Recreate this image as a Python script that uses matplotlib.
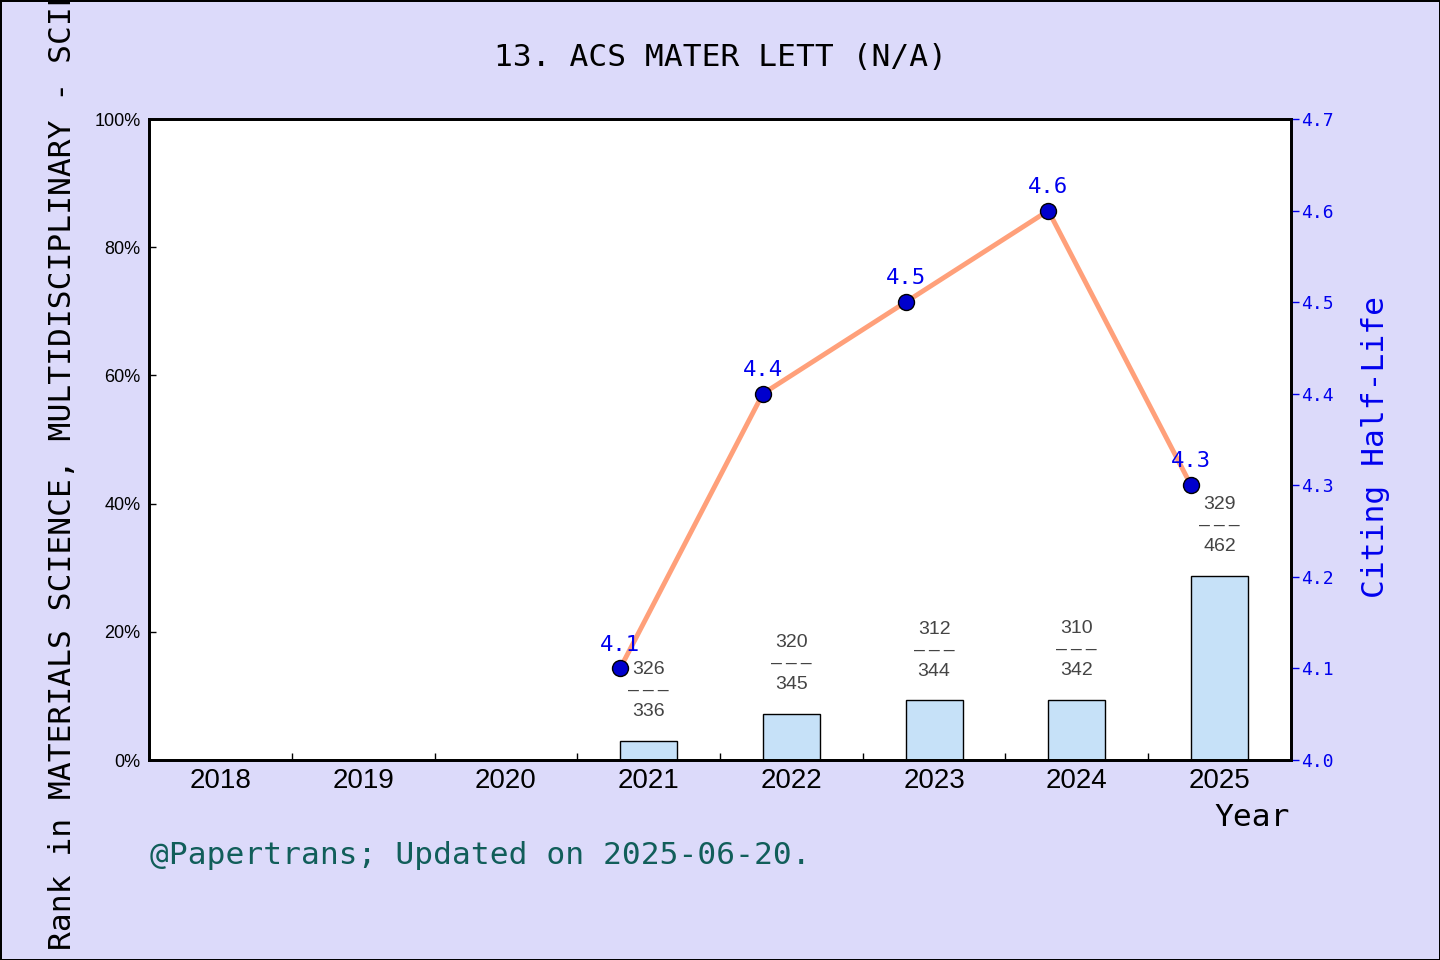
import matplotlib.pyplot as plt
from matplotlib.ticker import FixedLocator, FuncFormatter

# Data ########################################################

years = ["2018", "2019", "2020", "2021", "2022", "2023", "2024", "2025"]
rank_years = ["2021", "2022", "2023", "2024", "2025"]
ranks = [326, 320, 312, 310, 329]
totals = [336, 345, 344, 342, 462]
half_life = [4.1, 4.4, 4.5, 4.6, 4.3]

title = "13. ACS MATER LETT (N/A)"
left_label = "Rank in MATERIALS SCIENCE, MULTIDISCIPLINARY - SCIE"
right_label = "Citing Half-Life"
note = "@Papertrans; Updated on 2025-06-20."

# Styles ######################################################

bg = "#dcdafa"
mono = "DejaVu Sans Mono"
sans = "Liberation Sans"
dash = "\u2013\u2009\u2013\u2009\u2013"

fig = plt.figure(figsize=(14.4, 9.6), dpi=100, facecolor=bg,
                 edgecolor="black", linewidth=2)
ax = fig.add_axes([0.1035, 0.2083, 0.793, 0.6677])
ax2 = ax.twinx()
ax.set_zorder(ax2.get_zorder() - 1)
ax2.patch.set_visible(False)
ax.set_facecolor("white")

idx = [years.index(y) for y in rank_years]
pct = [(1 - r / t) * 100 for r, t in zip(ranks, totals)]

bars = ax.bar(idx, pct, width=0.4, color="#c6e1f8", edgecolor="black",
              linewidth=1, zorder=2)
for i, p, r, t in zip(idx, pct, ranks, totals):
    ax.annotate(f"{r}\n{dash}\n{t}", (i, p), xytext=(0, 15),
                textcoords="offset points", ha="center", va="bottom",
                fontsize=14, color="#444444", family=sans, linespacing=1.3)

# half-life line, shifted to the left edge of each bar
lx = [i - 0.2 for i in idx]
ax2.plot(lx, half_life, color="#ffa07a", lw=3.5, zorder=3)
ax2.plot(lx, half_life, "o", ms=11.5, mfc="#0000cd", mec="black",
         mew=1, zorder=4)
for x, v in zip(lx, half_life):
    ax2.annotate(f"{v:.1f}", (x, v), xytext=(0, 10),
                 textcoords="offset points", ha="center", va="bottom",
                 fontsize=16, color="#0000ee", family=mono)

# Axes ########################################################

ax.set_xlim(-0.5, len(years) - 0.5)
ax.set_ylim(0, 100)
ax2.set_ylim(4.0, 4.7)

ax.set_xticks(range(len(years)))
ax.set_xticklabels(years, fontsize=20, family=sans)
ax.xaxis.set_minor_locator(FixedLocator([i + 0.5 for i in range(len(years) - 1)]))
ax.tick_params(axis="x", which="major", length=0, pad=6)
ax.tick_params(axis="x", which="minor", length=5, direction="in", width=1)

ax.set_yticks(range(0, 101, 20))
ax.yaxis.set_major_formatter(FuncFormatter(lambda v, p: f"{v:.0f}%"))
ax.tick_params(axis="y", length=5, direction="in", width=1, labelsize=13,
               pad=6)
for lab in ax.get_yticklabels():
    lab.set_family(sans)

ax2.set_yticks([4.0 + 0.1 * k for k in range(8)])
ax2.yaxis.set_major_formatter(FuncFormatter(lambda v, p: f"{v:.1f}"))
ax2.tick_params(axis="y", length=6, direction="out", width=1,
                labelsize=13, colors="#0000ee", pad=1)
for lab in ax2.get_yticklabels():
    lab.set_family(mono)

for a in (ax, ax2):
    for s in a.spines.values():
        s.set_linewidth(2)
        s.set_color("black")

# Texts #######################################################

fig.text(0.5, 1 - 57 / 960, title, ha="center", va="center",
         fontsize=22.5, family=mono)
fig.text(63 / 1440, 10 / 960, left_label, rotation=90, ha="center",
         va="bottom", fontsize=22.5, family=mono)
fig.text(1375 / 1440, 1 - 447 / 960, right_label, rotation=90, ha="center",
         va="center", fontsize=22.5, family=mono, color="#0000ee")
fig.text(1290 / 1440, 1 - 817 / 960, "Year", ha="right", va="center",
         fontsize=22.5, family=mono)
fig.text(150 / 1440, 1 - 855 / 960, note, ha="left", va="center",
         fontsize=22.5, family=mono, color="#115e5a")

plt.savefig("out.png", dpi=100)
